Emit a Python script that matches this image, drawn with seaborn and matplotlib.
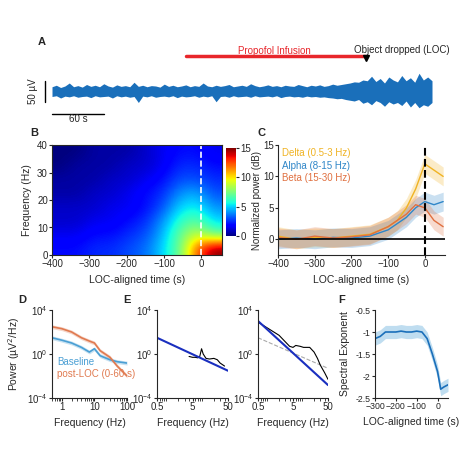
import numpy as np
import matplotlib
matplotlib.use('Agg')
import matplotlib.pyplot as plt
import seaborn as sns

sns.set_style('ticks')
plt.rcParams['font.family'] = ['Liberation Sans', 'DejaVu Sans']
plt.rcParams['font.size'] = 7

# A: EEG trace envelope (upper / lower excursion in uV), 5 s segments
eeg_t = np.arange(0, 445, 5)
eeg_up = [12, 16, 10, 14, 22, 12, 15, 11, 18, 13, 16, 12, 20, 14, 11, 17, 13, 15, 12, 24,
          13, 16, 12, 15, 14, 11, 19, 13, 16, 12, 14, 17, 12, 15, 13, 22, 14, 12, 16, 13,
          15, 18, 12, 14, 16, 13, 20, 15, 12, 14, 17, 13, 15, 12, 16, 14, 13, 18, 15, 12,
          16, 14, 17, 13, 15, 19, 16, 18, 20, 22, 25, 24, 30, 28, 40, 26, 34, 22, 38, 30,
          25, 42, 28, 36, 24, 48, 30, 38, 28]
eeg_lo = [14, 12, 18, 13, 15, 12, 16, 14, 13, 17, 12, 15, 14, 13, 18, 12, 15, 13, 16, 14,
          30, 13, 15, 12, 16, 14, 13, 15, 12, 17, 13, 15, 14, 12, 16, 13, 15, 12, 28, 14,
          13, 16, 12, 15, 14, 13, 16, 12, 15, 14, 13, 15, 12, 17, 14, 13, 15, 14, 16, 13,
          15, 14, 16, 15, 17, 18, 20, 19, 22, 24, 26, 22, 32, 28, 36, 25, 30, 40, 28, 34,
          30, 38, 26, 42, 30, 44, 36, 40, 30]

# B: spectrogram grid (freq bins of 5 Hz, time columns)
spec_t = [-400, -350, -300, -250, -200, -150, -100, -50, 0, 50]
spec_f = [2.5, 7.5, 12.5, 17.5, 22.5, 27.5, 32.5, 37.5]
spec_db = [
    [2, 2, 2.5, 2.5, 3, 3.5, 5, 7, 12, 15],
    [1.5, 1.5, 2, 2, 2.5, 3, 4.5, 7, 9, 7],
    [1, 1, 1.5, 1.5, 2, 2.5, 4, 6, 7, 5],
    [1, 1, 1, 1.5, 1.5, 2, 3, 5, 5.5, 4],
    [0.5, 0.5, 1, 1, 1.5, 2, 2.5, 4, 4.5, 3],
    [0.5, 0.5, 0.5, 1, 1, 1.5, 2, 3, 3, 2.5],
    [0, 0.5, 0.5, 0.5, 1, 1, 1.5, 2.5, 2.5, 2],
    [0, 0, 0.5, 0.5, 0.5, 1, 1.5, 2, 2, 1.5],
]

# C: normalized band power
c_t = [-400, -350, -300, -250, -200, -150, -100, -75, -50, -25, 0, 25, 50]
delta = [0.5, 0, 0.3, 0.2, 0.5, 0.8, 2, 3, 5, 8, 12, 11, 10]
alpha = [0, 0.2, 0, 0.3, 0.2, 0.5, 1.5, 2.5, 3.5, 5, 6, 5.5, 6]
beta = [0.3, 0, 0.5, 0.2, 0.4, 0.7, 2, 3, 4, 5.5, 5, 3, 2]

# D: spectra
d_f = [0.5, 1, 2, 4, 7, 10, 15, 30, 50, 100]
baseline = [30, 18, 10, 4, 1.5, 3, 0.7, 0.3, 0.2, 0.15]
postloc = [300, 200, 100, 30, 15, 10, 2, 0.5, 0.08, 0.01]

# E: fits
e1_fit_f = [0.5, 50]
e1_fit = [30, 0.03]
e1_f = [4, 5, 6, 7, 8, 9, 10, 12, 15, 20, 25, 30, 40]
e1_p = [0.6, 0.5, 0.5, 0.45, 0.6, 3, 1, 0.4, 0.35, 0.4, 0.3, 0.15, 0.08]
e2_fit_f = [0.5, 50]
e2_fit = [1000, 0.0015]
e2_ap = [30, 0.05]
e2_f = [0.5, 1, 2, 4, 5, 6, 8, 10, 15, 20, 25, 30, 40, 50]
e2_p = [800, 200, 50, 5, 4, 6, 5, 4, 4, 1.5, 0.4, 0.1, 0.02, 0.005]

# F: spectral exponent
f_t = [-300, -275, -250, -225, -200, -175, -150, -125, -100, -75, -50, -25, 0, 15, 30, 50]
f_exp = [-1.15, -1.1, -1.0, -1.0, -1.0, -0.98, -1.0, -1.0, -0.98, -1.0, -1.15, -1.5, -1.9, -2.3, -2.25, -2.2]

W, H = 474, 473
fig = plt.figure(figsize=(W / 100, H / 100), dpi=100)


def box(x0, y0, x1, y1):
    return fig.add_axes([x0 / W, 1 - y1 / H, (x1 - x0) / W, (y1 - y0) / H])


eeg_blue = '#1a6fba'
lab_fs = 7.5

# A
axA = box(52, 50, 432, 125)
axA.fill_between(eeg_t, -np.array(eeg_lo), eeg_up, color=eeg_blue, lw=0)
axA.set_xlim(0, 440)
axA.set_ylim(-90, 110)
axA.axis('off')
axA.plot([155, 362], [95, 95], color='#e8262b', lw=2.5)
axA.text(258, 100, 'Propofol Infusion', color='#e8262b', ha='center', fontsize=7)
axA.plot([364], [88], marker='v', color='k', ms=4)
axA.text(405, 102, 'Object dropped (LOC)', ha='center', fontsize=7)
axA.plot([-8, -8], [-28, 28], color='k', lw=1, clip_on=False)
axA.text(-22, 0, '50 µV', rotation=90, va='center', ha='center', fontsize=7)
axA.plot([0, 60], [-60, -60], color='k', lw=1, clip_on=False)
axA.text(30, -82, '60 s', ha='center', fontsize=7)
fig.text(38 / W, 1 - 45 / H, 'A', fontweight='bold', fontsize=8)

# B
axB = box(52, 145, 222, 255)
im = axB.imshow(spec_db, origin='lower', aspect='auto', cmap='jet', vmin=0, vmax=15,
                extent=[-400, 55, 0, 40], interpolation='bicubic')
axB.axvline(0, color='w', ls='--', lw=1.2)
axB.set_xticks([-400, -300, -200, -100, 0])
axB.set_yticks([0, 10, 20, 30, 40])
axB.set_xlabel('LOC-aligned time (s)', fontsize=lab_fs)
axB.set_ylabel('Frequency (Hz)', fontsize=lab_fs)
cax = box(226, 148, 236, 236)
cb = fig.colorbar(im, cax=cax, ticks=[0, 5, 10, 15])
cb.outline.set_visible(False)
fig.text(30 / W, 1 - 136 / H, 'B', fontweight='bold', fontsize=8)

# C
axC = box(278, 145, 445, 255)
bands = [(delta, '#f0b323', 'Delta (0.5-3 Hz)'), (alpha, '#2f86c8', 'Alpha (8-15 Hz)'),
         (beta, '#e07040', 'Beta (15-30 Hz)')]
for vals, col, lab in bands:
    v = np.array(vals)
    axC.fill_between(c_t, v - 1.5, v + 1.5, color=col, alpha=0.25, lw=0)
    axC.plot(c_t, v, color=col, lw=1)
for i, (vals, col, lab) in enumerate(bands):
    axC.text(-390, 13.2 - i * 2, lab, color=col, fontsize=7)
axC.axhline(0, color='k', lw=1.2)
axC.axvline(0, color='k', ls='--', lw=1.5)
axC.set_xlim(-400, 55)
axC.set_ylim(-2.5, 15)
axC.set_yticks([0, 5, 10, 15])
axC.set_xticks([-400, -300, -200, -100, 0])
axC.set_xlabel('LOC-aligned time (s)', fontsize=lab_fs)
axC.set_ylabel('Normalized power (dB)', fontsize=7, labelpad=1)
sns.despine(ax=axC)
fig.text(258 / W, 1 - 136 / H, 'C', fontweight='bold', fontsize=8)

# D
axD = box(52, 310, 127, 398)
for vals, col in [(baseline, '#4a9fd4'), (postloc, '#e07a50')]:
    v = np.array(vals)
    axD.fill_between(d_f, v / 1.5, v * 1.5, color=col, alpha=0.3, lw=0)
    axD.plot(d_f, v, color=col, lw=1.2)
axD.set_xscale('log')
axD.set_yscale('log')
axD.set_xlim(0.5, 100)
axD.set_ylim(1e-4, 1e4)
axD.set_yticks([1e-4, 1e0, 1e4])
axD.set_xticks([1, 10, 100])
axD.set_xticklabels(['1', '10', '100'])
axD.text(0.7, 1e-1, 'Baseline', color='#4a9fd4', fontsize=7)
axD.text(0.7, 8e-3, 'post-LOC (0-60 s)', color='#e07a50', fontsize=7)
axD.set_xlabel('Frequency (Hz)', fontsize=lab_fs)
axD.set_ylabel('Power (µV$^2$/Hz)', fontsize=lab_fs)
sns.despine(ax=axD)
fig.text(18 / W, 1 - 303 / H, 'D', fontweight='bold', fontsize=8)

# E
axE1 = box(157, 310, 228, 398)
axE1.plot(e1_f, e1_p, color='k', lw=0.8)
axE1.plot(e1_fit_f, e1_fit, color='#1a2fbf', lw=1.5)
axE2 = box(258, 310, 328, 398)
axE2.plot(e2_fit_f, e2_ap, color='#aaaaaa', ls='--', lw=0.8)
axE2.plot(e2_f, e2_p, color='k', lw=0.8)
axE2.plot(e2_fit_f, e2_fit, color='#1a2fbf', lw=1.5)
for ax in [axE1, axE2]:
    ax.set_xscale('log')
    ax.set_yscale('log')
    ax.set_xlim(0.5, 50)
    ax.set_ylim(1e-4, 1e4)
    ax.set_yticks([1e-4, 1e0, 1e4])
    ax.set_xticks([0.5, 5, 50])
    ax.set_xticklabels(['0.5', '5', '50'])
    ax.set_xlabel('Frequency (Hz)', fontsize=lab_fs)
    sns.despine(ax=ax)
fig.text(123 / W, 1 - 303 / H, 'E', fontweight='bold', fontsize=8)

# F
axF = box(375, 310, 448, 398)
fe = np.array(f_exp)
axF.fill_between(f_t, fe - 0.15, fe + 0.15, color='#4a9fd4', alpha=0.35, lw=0)
axF.plot(f_t, fe, color='#1a6fba', lw=1.2)
axF.set_xlim(-300, 50)
axF.set_ylim(-2.5, -0.5)
axF.set_xticks([-300, -200, -100, 0])
axF.set_yticks([-2.5, -2, -1.5, -1, -0.5])
axF.set_yticklabels(['-2.5', '-2', '-1.5', '-1', '-0.5'])
axF.set_xlabel('LOC-aligned time (s)', fontsize=lab_fs)
axF.set_ylabel('Spectral Exponent', fontsize=lab_fs)
sns.despine(ax=axF)
fig.text(338 / W, 1 - 303 / H, 'F', fontweight='bold', fontsize=8)

for ax in [axB, axC, axD, axE1, axE2, cax]:
    ax.tick_params(labelsize=7, length=2, pad=1)
axF.tick_params(labelsize=6.3, length=2, pad=1)

fig.savefig('out.png', dpi=100)
